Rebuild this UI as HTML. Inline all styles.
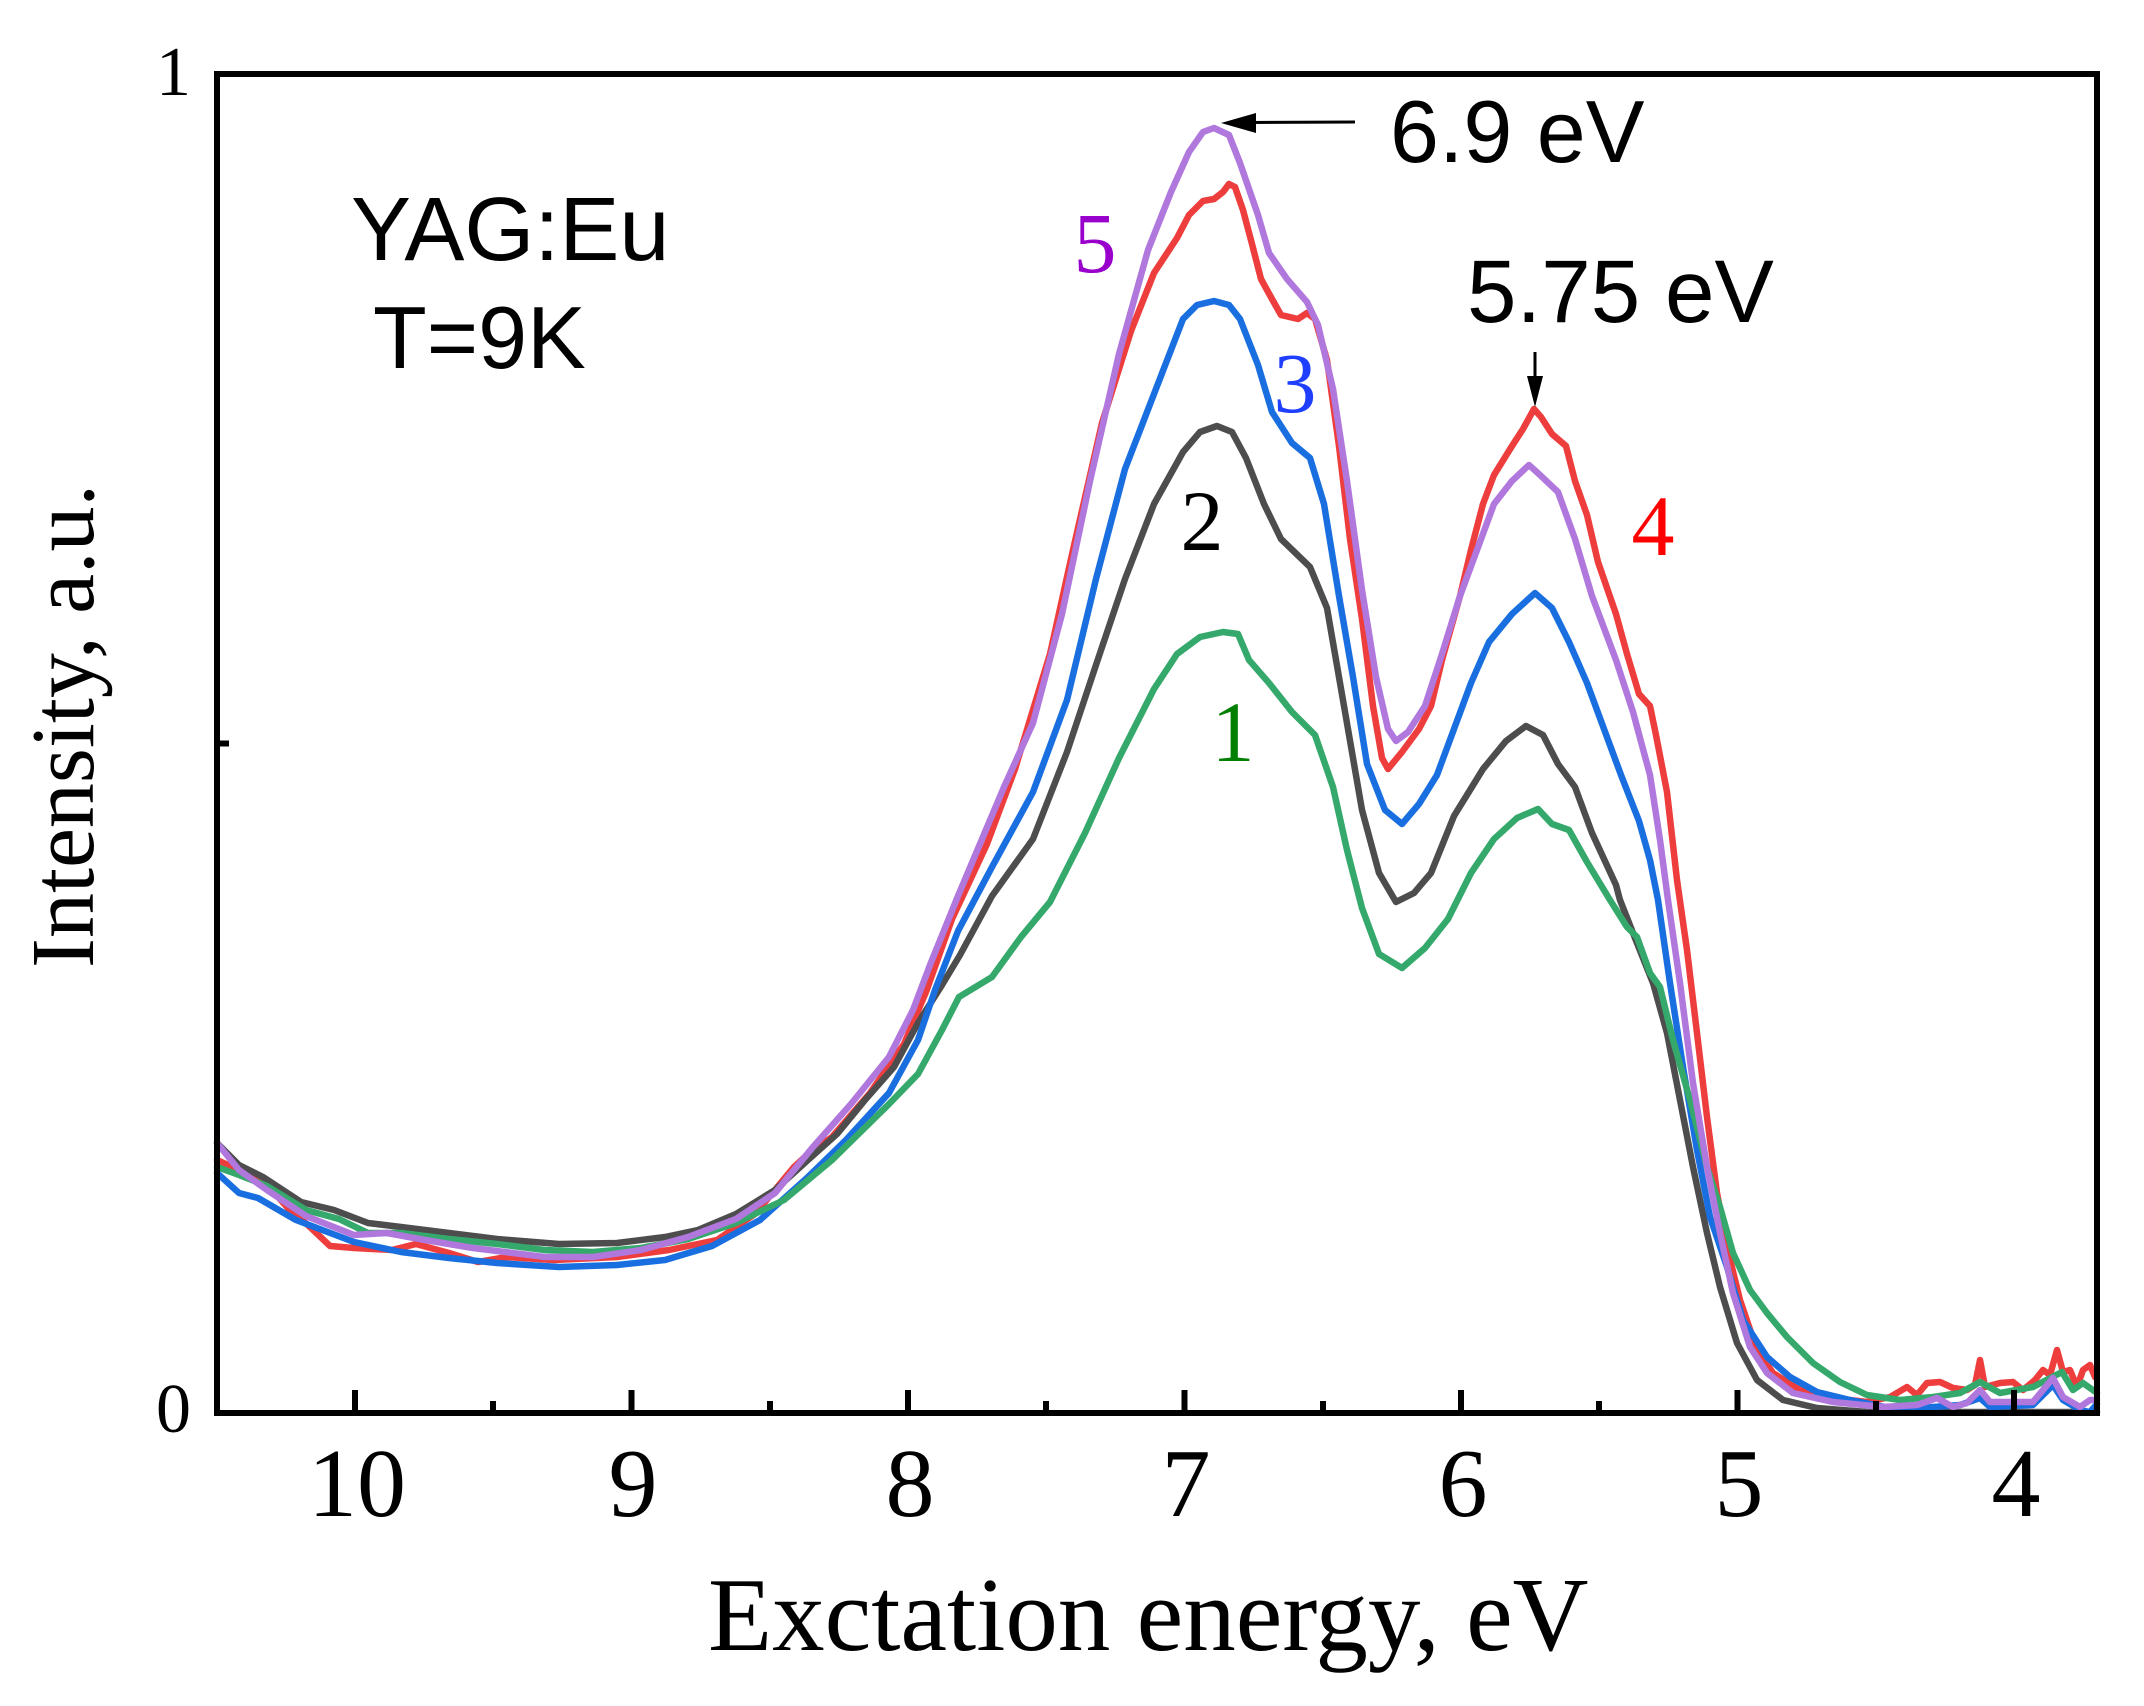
<!DOCTYPE html>
<html>
<head>
<meta charset="utf-8">
<style>
html,body{margin:0;padding:0;background:#fff;}
svg{display:block;}
.serif{font-family:"Liberation Serif","Times New Roman",serif;}
.sans{font-family:"Liberation Sans",Arial,sans-serif;}
.c{fill:none;stroke-width:6.5;stroke-linejoin:round;stroke-linecap:round;}
</style>
</head>
<body>
<svg width="2144" height="1706" viewBox="0 0 2144 1706" xmlns="http://www.w3.org/2000/svg">
<rect width="2144" height="1706" fill="#fff"/>

<!-- red (4) -->
<polyline class="c" stroke="#ee3d3d" points="217,1160 239,1170 263,1180 287,1207 310,1227 330,1246 354,1248 392,1250 416,1244 449,1253 478,1262 507,1257 554,1260 617,1257 669,1250 717,1240 755,1214 794,1167 808,1154 832,1137 870,1093 904,1044 926,992 952,919 987,844 1015,769 1050,654 1073,550 1102,423 1131,331 1154,273 1177,238 1189,215 1203,201 1214,199 1223,192 1229,184 1235,187 1243,210 1252,244 1261,279 1272,299 1281,315 1298,319 1307,313 1315,319 1327,360 1339,446 1350,539 1362,619 1373,706 1382,758 1388,769 1402,752 1419,729 1431,706 1442,660 1460,596 1471,550 1483,504 1494,475 1512,446 1523,429 1534,409 1541,417 1552,434 1566,446 1575,481 1587,515 1598,562 1616,614 1627,654 1639,694 1650,706 1656,735 1667,792 1677,880 1687,950 1697,1033 1707,1117 1717,1193 1727,1247 1740,1300 1757,1350 1773,1373 1800,1390 1833,1398 1867,1402 1890,1397 1907,1387 1917,1395 1927,1383 1940,1382 1953,1388 1967,1390 1975,1385 1980,1360 1985,1387 2000,1383 2013,1382 2023,1390 2035,1380 2043,1370 2050,1375 2057,1350 2063,1372 2070,1370 2077,1387 2083,1370 2090,1365 2095,1377"/>
<!-- gray (2) -->
<polyline class="c" stroke="#4d4d4d" points="217,1143 239,1165 263,1177 301,1202 334,1210 368,1223 401,1227 449,1233 497,1239 559,1244 617,1243 665,1237 698,1230 736,1214 775,1190 808,1160 837,1134 865,1100 894,1067 918,1023 942,985 960,955 992,896 1033,839 1067,752 1096,665 1125,579 1154,504 1183,452 1200,432 1217,426 1232,432 1246,458 1264,504 1281,539 1310,567 1327,608 1344,706 1362,810 1379,873 1396,902 1414,893 1431,873 1454,816 1483,769 1506,741 1526,726 1543,735 1558,764 1575,787 1592,833 1616,885 1620,900 1633,933 1653,983 1667,1033 1680,1100 1693,1167 1707,1233 1720,1287 1737,1343 1757,1380 1783,1400 1817,1408 1867,1412 2097,1412"/>
<!-- blue (3) -->
<polyline class="c" stroke="#1a6fe0" points="217,1173 239,1193 258,1198 296,1220 354,1242 401,1252 449,1258 497,1263 559,1267 617,1265 665,1260 712,1246 760,1220 808,1177 846,1140 889,1093 918,1040 935,990 958,931 992,867 1033,792 1067,700 1096,579 1125,469 1154,394 1183,319 1197,305 1214,301 1229,305 1240,319 1258,365 1272,412 1292,443 1310,458 1324,504 1339,596 1353,677 1367,764 1385,810 1402,824 1419,804 1437,775 1454,729 1471,683 1489,642 1512,614 1535,593 1552,608 1569,642 1587,683 1604,729 1621,775 1639,821 1650,860 1658,900 1670,983 1683,1067 1697,1150 1710,1217 1727,1267 1743,1320 1767,1357 1790,1377 1817,1392 1850,1400 1900,1410 1933,1407 1960,1405 1980,1398 1990,1407 2033,1405 2053,1385 2063,1400 2080,1410 2090,1412 2097,1404"/>
<!-- green (1) -->
<polyline class="c" stroke="#35a96b" points="217,1167 239,1175 267,1186 306,1210 339,1219 368,1233 401,1233 449,1239 497,1244 545,1250 593,1252 641,1248 688,1239 736,1223 784,1200 832,1160 889,1104 918,1074 942,1030 959,997 992,977 1021,937 1050,902 1085,833 1119,758 1154,689 1177,654 1200,637 1223,632 1238,634 1249,660 1269,683 1292,712 1315,735 1333,787 1347,850 1362,908 1379,954 1402,968 1425,948 1448,919 1471,873 1494,839 1517,818 1538,809 1552,824 1569,830 1587,862 1610,900 1627,927 1637,937 1650,973 1660,987 1673,1040 1690,1100 1707,1167 1720,1207 1733,1253 1750,1290 1767,1313 1787,1337 1813,1363 1840,1382 1867,1395 1900,1400 1933,1397 1960,1393 1980,1382 2000,1393 2033,1387 2062,1372 2073,1390 2083,1383 2097,1393"/>
<!-- purple (5) -->
<polyline class="c" stroke="#b077dd" points="217,1143 239,1170 267,1190 306,1216 354,1235 387,1233 425,1240 473,1248 545,1257 593,1257 641,1250 688,1237 736,1219 775,1193 813,1147 851,1104 889,1057 913,1010 930,965 958,896 1004,787 1033,723 1062,614 1090,481 1119,354 1148,250 1171,192 1189,152 1203,132 1214,128 1229,135 1240,163 1258,215 1269,253 1287,279 1307,302 1318,325 1333,389 1347,481 1362,590 1376,677 1388,729 1396,741 1408,732 1425,706 1442,654 1460,596 1477,550 1494,504 1512,481 1529,465 1540,475 1558,492 1575,539 1592,596 1616,660 1633,712 1650,775 1660,840 1668,900 1680,983 1693,1083 1707,1167 1720,1233 1733,1293 1750,1347 1767,1373 1793,1393 1833,1402 1883,1407 1917,1405 1937,1398 1953,1407 1967,1403 1980,1390 1990,1402 2033,1402 2053,1378 2063,1397 2080,1407 2090,1400 2097,1400"/>

<!-- frame -->
<rect x="217" y="74" width="1880" height="1339" fill="none" stroke="#000" stroke-width="6"/>

<!-- ticks -->
<g stroke="#000" stroke-width="6">
<line x1="355" y1="1413" x2="355" y2="1390"/>
<line x1="631.5" y1="1413" x2="631.5" y2="1390"/>
<line x1="908" y1="1413" x2="908" y2="1390"/>
<line x1="1184.5" y1="1413" x2="1184.5" y2="1390"/>
<line x1="1461" y1="1413" x2="1461" y2="1390"/>
<line x1="1737.5" y1="1413" x2="1737.5" y2="1390"/>
<line x1="2014" y1="1413" x2="2014" y2="1390"/>
<line x1="493" y1="1413" x2="493" y2="1401"/>
<line x1="770" y1="1413" x2="770" y2="1401"/>
<line x1="1046" y1="1413" x2="1046" y2="1401"/>
<line x1="1323" y1="1413" x2="1323" y2="1401"/>
<line x1="1599" y1="1413" x2="1599" y2="1401"/>
<line x1="1876" y1="1413" x2="1876" y2="1401"/>
<line x1="217" y1="743.5" x2="229" y2="743.5"/>
</g>

<!-- tick labels -->
<g class="serif" font-size="98" fill="#000" text-anchor="middle">
<text x="357" y="1516">10</text>
<text x="633" y="1516">9</text>
<text x="910" y="1516">8</text>
<text x="1186" y="1516">7</text>
<text x="1463" y="1516">6</text>
<text x="1739" y="1516">5</text>
<text x="2016" y="1516">4</text>
</g>
<g class="serif" font-size="70" fill="#000" text-anchor="end">
<text x="191" y="1432">0</text>
<text x="191" y="95">1</text>
</g>

<!-- axis titles -->
<text class="serif" font-size="105" x="708" y="1650" fill="#000">Exctation energy, eV</text>
<text class="serif" font-size="90" fill="#000" text-anchor="middle" transform="translate(93,726) rotate(-90)" x="0" y="0">Intensity, a.u.</text>

<!-- annotations -->
<g class="sans" fill="#000">
<text x="351" y="260" font-size="90">YAG:Eu</text>
<text x="373" y="368" font-size="88">T=9K</text>
<text x="1390" y="162" font-size="88">6.9 eV</text>
<text x="1467" y="322" font-size="89">5.75 eV</text>
</g>

<!-- arrows -->
<line x1="1355" y1="122" x2="1250" y2="122.5" stroke="#000" stroke-width="3"/>
<polygon points="1221,123 1256,113 1256,133" fill="#000"/>
<line x1="1535" y1="352" x2="1535" y2="382" stroke="#000" stroke-width="3"/>
<polygon points="1535,407 1527,376 1543,376" fill="#000"/>

<!-- curve labels -->
<g class="serif" font-size="86" text-anchor="middle">
<text x="1095" y="272" fill="#9900cc">5</text>
<text x="1295" y="412" fill="#1f3fff">3</text>
<text x="1202" y="550" fill="#000">2</text>
<text x="1653" y="555" fill="#ff0000">4</text>
<text x="1233" y="761" fill="#007f00">1</text>
</g>
</svg>
</body>
</html>
